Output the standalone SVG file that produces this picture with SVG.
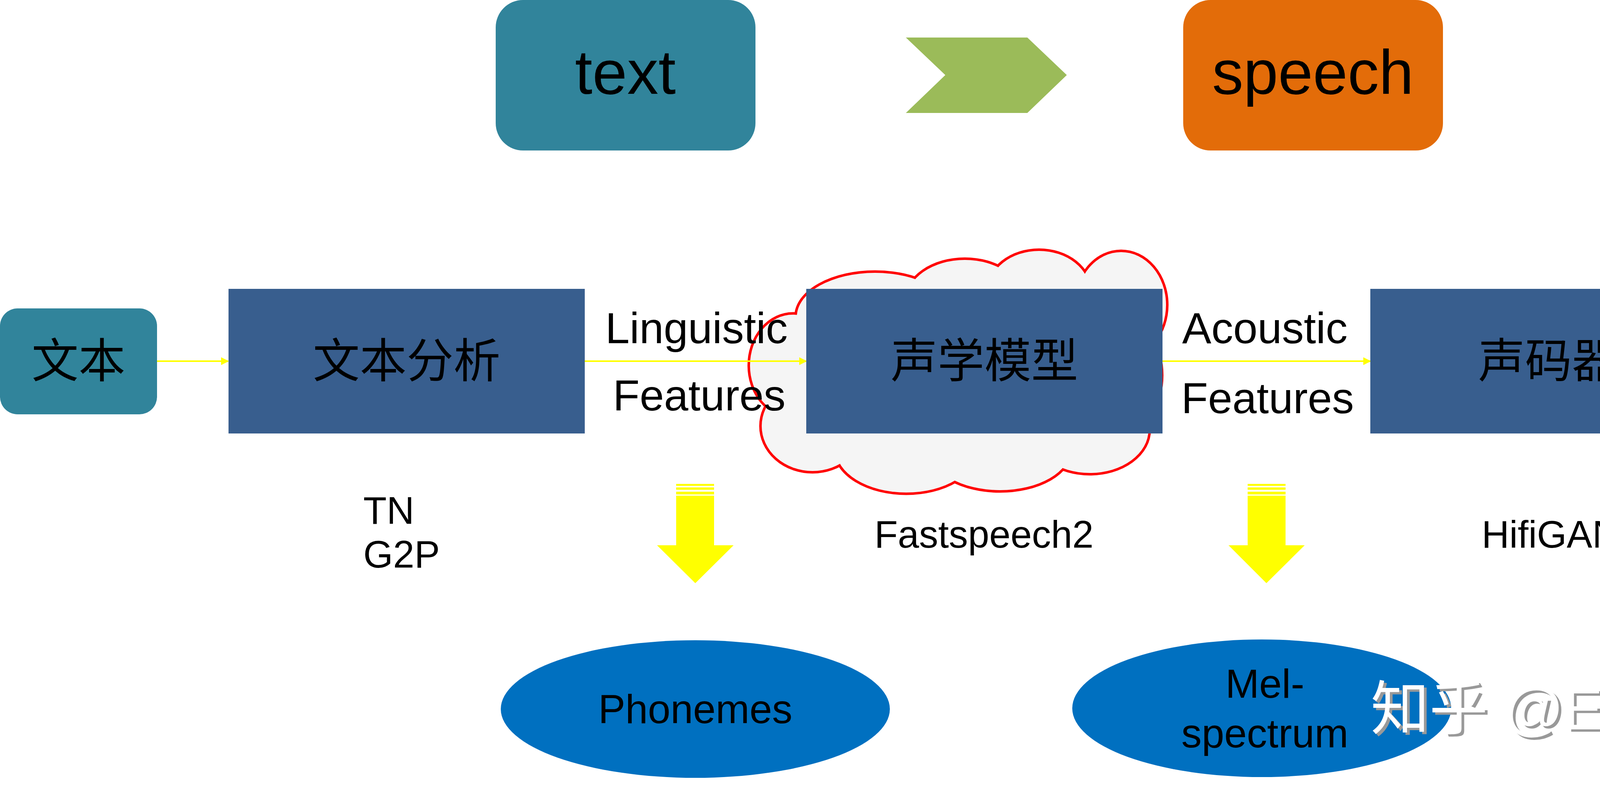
<svg xmlns="http://www.w3.org/2000/svg" width="5037" height="2016" viewBox="0 0 5037 2016">
<style>
text{font-family:"Liberation Sans","Noto Sans CJK SC",sans-serif;fill:#000}
.blue{fill:#385E8E}
.cs{fill:none;stroke:#FF0000;stroke-width:13}
.cf{fill:#F5F5F5;stroke:none}
.conn{stroke:#FFFF00;stroke-width:4;fill:none;marker-end:url(#ah)}
.ya{fill:#FFFF00}
.ell{fill:#0070C0}
</style>
<defs>
<marker id="ah" viewBox="0 0 10 10" refX="9" refY="5" markerWidth="5" markerHeight="5" orient="auto" markerUnits="strokeWidth"><path d="M0,0L10,5L0,10z" fill="#FFFF00"/></marker>
</defs>
<rect width="5037" height="2016" fill="#fff"/>
<g id="text-node"><rect x="1269" y="0" width="665" height="385" rx="70" fill="#31849B"/><text x="1601" y="240" font-size="160" text-anchor="middle">text</text></g>
<g id="chevron"><path d="M2319,96H2630L2731,192L2630,289H2319L2420,192Z" fill="#9BBB59"/></g>
<g id="speech-node"><rect x="3029" y="0" width="665" height="385" rx="70" fill="#E36C09"/><text x="3361" y="240" font-size="160" text-anchor="middle">speech</text></g>

<g id="cloud">
<g class="cs">
<ellipse cx="2240" cy="810" rx="200" ry="112"/><ellipse cx="2470" cy="770" rx="150" ry="105"/><ellipse cx="2660" cy="745" rx="130" ry="103"/><ellipse cx="2870" cy="780" rx="115" ry="135"/><ellipse cx="2880" cy="960" rx="92" ry="140"/><ellipse cx="2030" cy="935" rx="110" ry="130"/><ellipse cx="2080" cy="1090" rx="130" ry="115"/><ellipse cx="2320" cy="1150" rx="180" ry="110"/><ellipse cx="2560" cy="1150" rx="180" ry="104"/><ellipse cx="2790" cy="1100" rx="150" ry="110"/>
</g>
<g class="cf">
<ellipse cx="2240" cy="810" rx="200" ry="112"/><ellipse cx="2470" cy="770" rx="150" ry="105"/><ellipse cx="2660" cy="745" rx="130" ry="103"/><ellipse cx="2870" cy="780" rx="115" ry="135"/><ellipse cx="2880" cy="960" rx="92" ry="140"/><ellipse cx="2030" cy="935" rx="110" ry="130"/><ellipse cx="2080" cy="1090" rx="130" ry="115"/><ellipse cx="2320" cy="1150" rx="180" ry="110"/><ellipse cx="2560" cy="1150" rx="180" ry="104"/><ellipse cx="2790" cy="1100" rx="150" ry="110"/><ellipse cx="2450" cy="960" rx="430" ry="230"/>
</g>
</g>

<g id="connectors">
<line class="conn" x1="402" y1="924" x2="584" y2="924"/>
<line class="conn" x1="1497" y1="924" x2="2064" y2="924"/>
<line class="conn" x1="2976" y1="924" x2="3508" y2="924"/>
<line class="conn" x1="4420" y1="924" x2="4562" y2="924"/>
</g>

<g id="wenben"><rect x="0" y="789" width="402" height="271" rx="45" fill="#31849B"/><text x="201" y="966" font-size="120" text-anchor="middle">文本</text></g>
<g id="wenbenfenxi"><rect class="blue" x="585" y="739" width="912" height="370"/><text x="1041" y="966" font-size="120" text-anchor="middle">文本分析</text></g>
<g id="shengxue"><rect class="blue" x="2064" y="739" width="912" height="370"/><text x="2520" y="966" font-size="120" text-anchor="middle">声学模型</text></g>
<g id="shengmaqi"><rect class="blue" x="3508" y="739" width="912" height="370"/><text x="3964" y="966" font-size="120" text-anchor="middle">声码器</text></g>
<g id="yuyin"><rect x="4562" y="789" width="475" height="271" rx="45" fill="#E36C09"/><text x="4798" y="966" font-size="120" text-anchor="middle">语音</text></g>

<g id="labels">
<text x="1783" y="878" font-size="112" text-anchor="middle">Linguistic</text>
<text x="1790" y="1050" font-size="112" text-anchor="middle">Features</text>
<text x="3238" y="878" font-size="112" text-anchor="middle">Acoustic</text>
<text x="3245" y="1057" font-size="112" text-anchor="middle">Features</text>
<text x="930" y="1340" font-size="98">TN</text>
<text x="930" y="1452" font-size="98">G2P</text>
<text x="2519" y="1401" font-size="98" text-anchor="middle">Fastspeech2</text>
<text x="3970" y="1401" font-size="98" text-anchor="middle">HifiGAN</text>
</g>

<g id="down1" class="ya"><rect x="1731" y="1238" width="97" height="5"/><rect x="1731" y="1247" width="97" height="6"/><rect x="1731" y="1258" width="97" height="7"/><path d="M1731,1268H1828V1395H1878L1780,1492L1682,1395H1731Z"/></g>
<g id="down2" class="ya"><rect x="3194" y="1238" width="97" height="5"/><rect x="3194" y="1247" width="97" height="6"/><rect x="3194" y="1258" width="97" height="7"/><path d="M3194,1268H3291V1395H3340L3242,1492L3145,1395H3194Z"/></g>

<g id="phonemes"><ellipse class="ell" cx="1780" cy="1814" rx="498" ry="176"/><text x="1780" y="1850" font-size="104" text-anchor="middle">Phonemes</text></g>
<g id="mel"><ellipse class="ell" cx="3230" cy="1812" rx="485" ry="176"/><text x="3238" y="1785" font-size="104" text-anchor="middle">Mel-</text><text x="3238" y="1912" font-size="104" text-anchor="middle">spectrum</text></g>

<g id="watermark" font-size="150">
<text x="3516" y="1872" style="fill:#999">知乎 @Executedone</text>
<text x="3509" y="1866" style="fill:#fff">知乎 @Executedone</text>
</g>
</svg>
